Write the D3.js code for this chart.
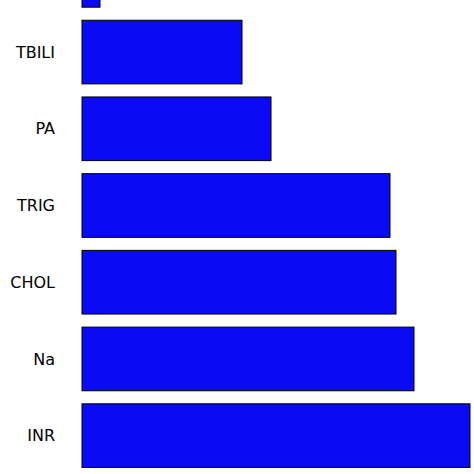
<!DOCTYPE html>
<html><head><meta charset="utf-8">
<script src="https://cdn.jsdelivr.net/npm/d3@7"></script>
<style>body{margin:0;background:#fff}</style>
</head><body><div id="chart"></div>
<script>
// horizontal bars, top of chart is cropped off
const categories = ['ALB', 'TBILI', 'PA', 'TRIG', 'CHOL', 'Na', 'INR'];
const values = [18, 160, 189, 308, 314, 332, 388];

const W = 474, H = 474;
const svg = d3.select('#chart').append('svg').attr('width', W).attr('height', H);

const x = d3.scaleLinear().domain([0, 388]).range([82, 470]);
const y = d3.scaleBand().domain(categories).range([-63, 474]).paddingInner(0.17).paddingOuter(0.085);

svg.append('g').selectAll('rect').data(categories).join('rect')
  .attr('x', x(0)).attr('y', (d) => y(d))
  .attr('width', (d, i) => x(values[i]) - x(0))
  .attr('height', y.bandwidth())
  .attr('fill', '#0a0af5').attr('stroke', '#000').attr('stroke-width', 1);

// first label sits above the visible area in the reference
svg.append('g').selectAll('text').data(categories.slice(1)).join('text')
  .attr('x', 55).attr('y', (d) => y(d) + y.bandwidth() / 2)
  .attr('dy', '0.35em').attr('text-anchor', 'end')
  .attr('font-family', 'DejaVu Sans, sans-serif').attr('font-size', 16)
  .text((d) => d);
</script></body></html>
